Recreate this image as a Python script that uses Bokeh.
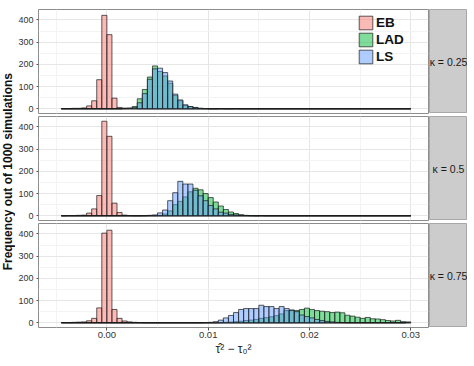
import numpy as np
from bokeh.plotting import figure
from bokeh.models import (ColumnDataSource, FixedTicker, Range1d, Legend, LegendItem,
                          PrintfTickFormatter)
from bokeh.layouts import column, row
from bokeh.embed import file_html
from bokeh.resources import INLINE
from bokeh.core.properties import value

# ---------------- data ----------------
BIN_WIDTH = 0.0005
BIN_START = -0.0045          # first bin edge
X_LIMITS = [-0.005, 0.030]   # data limits of the x scale
X_TICKS = [0.0, 0.01, 0.02, 0.03]
X_MINOR = [-0.005, 0.005, 0.015, 0.025]
Y_TICKS = [0, 100, 200, 300, 400]
Y_MINOR = [50, 150, 250, 350]
SERIES = ["EB", "LAD", "LS"]
STRIP_LABELS = ["κ = 0.25", "κ = 0.5", "κ = 0.75"]
X_TITLE = "τ̂² − τ₀²"
Y_TITLE = "Frequency out of 1000 simulations"

# counts per bin, bins from -0.0045 to 0.030 (69 bins)
eb_025 = [1, 1, 2, 2, 4, 13, 36, 131, 421, 334, 48, 6, 3, 2, 1,
          0, 0, 0, 0, 0, 0, 0, 0, 0, 0, 0, 0, 0, 0, 0, 0, 0, 0, 0, 0, 0, 0, 0, 0, 0, 0, 0,
          0, 0, 0, 0, 0, 0, 0, 0, 0, 0, 0, 0, 0, 0, 0, 0, 0, 0, 0, 0, 0, 0, 0, 0, 0, 0, 0]
lad_025 = [0, 0, 0, 0, 0, 0, 0, 0, 0, 0, 0, 0,
           1, 3, 10, 45, 87, 143, 193, 168, 148, 115, 60, 36, 15, 10, 6, 2, 1,
           0, 0, 1, 0, 0, 1,
           0, 0, 0, 0, 0, 0, 0, 0, 0, 0, 0, 0, 0, 0, 0, 0, 0, 0, 0, 0, 0, 0, 0, 0, 0, 0, 0,
           0, 0, 0, 0, 0, 0, 0]
ls_025 = [0, 0, 0, 0, 0, 0, 0, 0, 0, 0, 0, 0,
          1, 2, 5, 27, 68, 133, 180, 183, 163, 125, 66, 40, 18, 10, 5, 2, 1,
          0, 0, 0, 0, 0, 0, 0, 0, 0, 0, 0, 0, 0, 0, 0, 0, 0, 0, 0, 0, 0, 0, 0, 0, 0, 0,
          0, 0, 0, 0, 0, 0, 0, 0, 0, 0, 0, 0, 0, 0, 0, 0, 0, 0]

eb_05 = [0, 1, 1, 2, 3, 12, 31, 91, 426, 358, 57, 15, 3, 1, 0, 0, 1, 2,
         0, 0, 0, 0, 0, 0, 0, 0, 0, 0, 0, 0, 0, 0, 0, 0, 0, 0, 0, 0, 0, 0, 0, 0, 0, 0, 0,
         0, 0, 0, 0, 0, 0, 0, 0, 0, 0, 0, 0, 0, 0, 0, 0, 0, 0, 0, 0, 0, 0, 0, 0]
lad_05 = [0, 0, 0, 0, 0, 0, 0, 0, 0, 0, 0, 0, 0, 0, 0, 0, 0, 0,
          1, 2, 8, 22, 50, 65, 85, 108, 124, 117, 100, 82, 62, 44, 28, 17, 10, 5, 2, 1,
          0, 1,
          0, 0, 0, 0, 0, 0, 0, 0, 0, 0, 0, 0, 0, 0, 0, 0, 0, 0, 0, 0, 0, 0, 0, 0, 0, 0, 0,
          0, 0]
ls_05 = [0, 0, 0, 0, 0, 0, 0, 0, 0, 0, 0, 0, 0, 0, 0, 0, 0,
         1, 4, 13, 26, 68, 104, 155, 143, 143, 115, 90, 68, 46, 31, 16, 12, 6, 4, 2, 1,
         0, 0, 0, 0, 0, 0, 0, 0, 0, 0, 0, 0, 0, 0, 0, 0, 0, 0, 0, 0, 0, 0, 0, 0, 0, 0,
         0, 0, 0, 0, 0, 0, 0, 0, 0, 0, 0]

eb_075 = [1, 1, 2, 3, 4, 9, 20, 67, 404, 417, 60, 20, 8, 4, 2, 1,
          0, 0, 0, 0, 0, 0, 0, 0, 0, 0, 0, 0, 0, 0, 0, 0, 0, 0, 0, 0, 0, 0, 0, 0, 0, 0, 0,
          0, 0, 0, 0, 0, 0, 0, 0, 0, 0, 0, 0, 0, 0, 0, 0, 0, 0, 0, 0, 0, 0, 0, 0, 0]
lad_075 = [0, 0, 0, 0, 0, 0, 0, 0, 0, 0, 0, 0, 0, 0, 0, 0, 0, 0, 0, 0, 0, 0, 0, 0,
           0, 0, 0, 0, 0, 0, 0,
           1, 2, 3, 5, 7, 10, 12, 15, 20, 23, 27, 32, 40, 55, 58, 55, 60, 66, 60, 55,
           52, 50, 46, 48, 45, 34, 30, 25, 20, 24, 18, 17, 14, 10, 8, 11, 5, 4]
ls_075 = [0, 0, 0, 0, 0, 0, 0, 0, 0, 0, 0, 0, 0, 0, 0, 0, 0, 0, 0, 0, 0, 0, 0, 0,
          0, 0, 0, 0,
          1, 2, 5, 12, 22, 33, 46, 60, 64, 64, 64, 79, 73, 73, 64, 73, 64, 55, 50, 35,
          28, 22, 15, 10, 6, 4, 2, 1,
          0, 0, 0, 0, 0, 0, 0, 0, 0, 0, 0, 0, 0]

PANELS = [(eb_025, lad_025, ls_025), (eb_05, lad_05, ls_05), (eb_075, lad_075, ls_075)]

# ---------------- style ----------------
FONT = "Liberation Sans"
COLORS = {"EB": "#F8766D", "LAD": "#00BA38", "LS": "#619CFF"}
FRAME_W, FRAME_H = 390, 104
STRIP_W = 38
TOP = 9
GAP = 3
TITLE_W = 15
PANEL_BORDER = 22

n_bins = len(eb_025)
edges = BIN_START + BIN_WIDTH * np.arange(n_bins + 1)
left, right = edges[:-1], edges[1:]

ymax = max(max(s) for pan in PANELS for s in pan)
ypad = 0.05 * ymax
xlo, xhi = X_LIMITS
xpad = 0.05 * (xhi - xlo)
x0, x1 = xlo - xpad, xhi + xpad

rows = []
for i, (pan, strip_text) in enumerate(zip(PANELS, STRIP_LABELS)):
    first, last = i == 0, i == len(PANELS) - 1
    top_b = TOP if first else 0
    p = figure(frame_width=FRAME_W, frame_height=FRAME_H,
               x_range=Range1d(x0, x1), y_range=Range1d(-ypad, ymax + ypad),
               x_axis_location="below" if last else None,
               output_backend="svg", toolbar_location=None,
               min_border_left=PANEL_BORDER, min_border_right=1,
               min_border_top=top_b, min_border_bottom=0 if last else GAP)
    p.background_fill_color = "white"
    p.border_fill_color = "white"
    p.outline_line_color = "#8C8C8C"
    p.outline_line_width = 1

    p.xgrid.ticker = FixedTicker(ticks=X_TICKS, minor_ticks=X_MINOR)
    p.ygrid.ticker = FixedTicker(ticks=Y_TICKS, minor_ticks=Y_MINOR)
    for g in (p.xgrid, p.ygrid):
        g.grid_line_color = "#E6E6E6"
        g.grid_line_width = 1
        g.minor_grid_line_color = "#F3F3F3"
        g.minor_grid_line_width = 1

    ya = p.yaxis[0]
    ya.ticker = FixedTicker(ticks=Y_TICKS, minor_ticks=Y_MINOR)
    ya.axis_line_color = None
    ya.minor_tick_line_color = None
    ya.major_tick_in = 0
    ya.major_tick_out = 2
    ya.major_tick_line_color = "#555555"
    ya.major_label_standoff = 1
    ya.major_label_text_font = FONT
    ya.major_label_text_font_size = "9px"
    ya.major_label_text_color = "#333333"

    if last:
        xa = p.xaxis[0]
        xa.ticker = FixedTicker(ticks=X_TICKS, minor_ticks=X_MINOR)
        xa.formatter = PrintfTickFormatter(format="%.2f")
        xa.axis_line_color = None
        xa.minor_tick_line_color = None
        xa.major_tick_in = 0
        xa.major_tick_out = 3
        xa.major_tick_line_color = "#555555"
        xa.major_label_standoff = 0
        xa.major_label_text_font = FONT
        xa.major_label_text_font_size = "9.5px"
        xa.major_label_text_color = "#333333"
        xa.axis_label = X_TITLE
        xa.axis_label_standoff = 1
        xa.axis_label_text_font = FONT
        xa.axis_label_text_font_style = "normal"
        xa.axis_label_text_font_size = "12px"
        xa.axis_label_text_color = "#222222"

    renderers = {}
    for name, counts in zip(SERIES, pan):
        src = ColumnDataSource(dict(left=left, right=right, top=counts,
                                    bottom=[0] * len(counts)))
        renderers[name] = p.quad(left="left", right="right", top="top", bottom="bottom",
                                 source=src, fill_color=COLORS[name], fill_alpha=0.5,
                                 line_color="#1A1A1A", line_width=0.7)

    if first:
        items = [LegendItem(label=n, renderers=[renderers[n]]) for n in SERIES]
        leg = Legend(items=items, location=(319, 48), glyph_width=17, glyph_height=17,
                     label_height=14, spacing=-3, padding=0, margin=0, label_standoff=2,
                     label_text_font=FONT, label_text_font_style="bold",
                     label_text_font_size="13.5px", label_text_color="#111111",
                     background_fill_alpha=0, border_line_color=None)
        p.add_layout(leg)

    s = figure(frame_width=STRIP_W, frame_height=FRAME_H,
               x_range=Range1d(0, 1), y_range=Range1d(0, 1),
               x_axis_location=None, y_axis_location=None,
               output_backend="svg", toolbar_location=None,
               min_border_left=0, min_border_right=0,
               min_border_top=top_b, min_border_bottom=0)
    s.grid.visible = False
    s.background_fill_color = "#CCCCCC"
    s.border_fill_color = "white"
    s.outline_line_color = "#A8A8A8"
    s.text(x=[0.5], y=[0.5], text=[strip_text], text_align="center",
           text_baseline="middle", text_font=value(FONT), text_font_size="10.5px",
           text_color="#1A1A1A")
    rows.append(row(p, s))

# y-axis title: its own narrow figure spanning the three panels
t = figure(frame_width=TITLE_W, frame_height=3 * FRAME_H + 2 * GAP,
           x_range=Range1d(0, TITLE_W), y_range=Range1d(0, 1),
           x_axis_location=None, y_axis_location=None,
           output_backend="svg", toolbar_location=None,
           min_border_left=0, min_border_right=0,
           min_border_top=TOP, min_border_bottom=0)
t.grid.visible = False
t.outline_line_color = None
t.background_fill_color = "white"
t.border_fill_color = "white"
t.text(x=[TITLE_W / 2 - 0.2], y=[0.49], text=[Y_TITLE], angle=90, angle_units="deg",
       text_align="center", text_baseline="alphabetic", text_font=value(FONT),
       text_font_style="bold", text_font_size="12px", text_color="#111111")

layout = row(t, column(*rows))
open("out.html", "w").write(file_html(layout, INLINE))
